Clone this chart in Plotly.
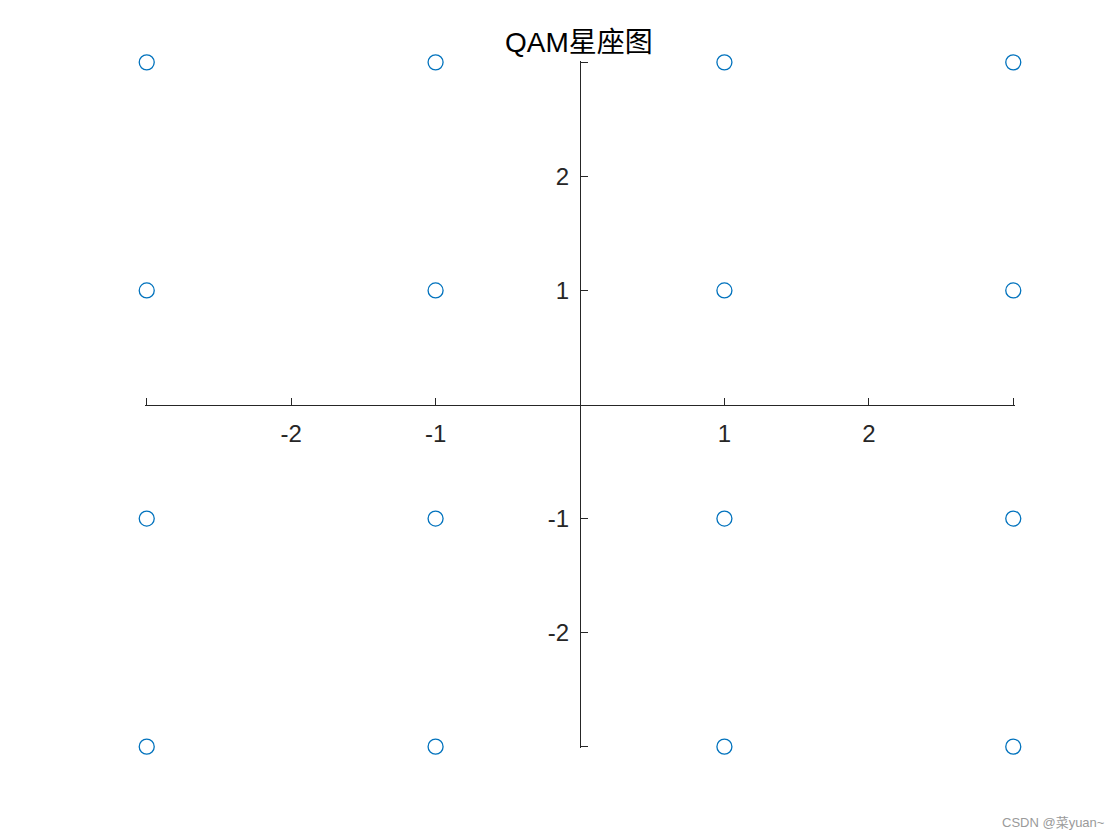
import plotly.graph_objects as go

# 16-QAM constellation points
i_vals = [-3, -3, -3, -3, -1, -1, -1, -1, 1, 1, 1, 1, 3, 3, 3, 3]
q_vals = [-3, -1, 1, 3, -3, -1, 1, 3, -3, -1, 1, 3, -3, -1, 1, 3]

tick_vals = [-3, -2, -1, 1, 2, 3]
tick_text = ["", "-2", "-1", "1", "2", ""]

titulo = "QAM星座图"
marca = "CSDN @菜yuan~"

fuente = "Liberation Sans, Arial, Noto Sans CJK SC"

# plot area in figure pixels (page adds an 8px body margin);
# range padded a hair so the end ticks at +-3 are still drawn
lim = 3.012
izq, der, arr, aba = 137, 1007, 53, 740

fig = go.Figure()
fig.add_trace(go.Scatter(
    x=i_vals, y=q_vals,
    mode="markers",
    marker=dict(symbol="circle-open", size=15, color="#0072BD",
                line=dict(width=1.3, color="#0072BD")),
    cliponaxis=False,
    showlegend=False,
))

eje = dict(
    range=[-lim, lim],
    showgrid=False,
    zeroline=False,
    showline=True,
    linecolor="#262626",
    linewidth=1,
    ticks="inside",
    ticklen=7,
    tickwidth=1,
    tickcolor="#262626",
    tickvals=tick_vals,
    ticktext=tick_text,
    tickfont=dict(family=fuente, size=24, color="#262626"),
    anchor="free",
    position=0.5,
)

ancho = der - izq
alto = aba - arr

fig.update_layout(
    width=1120, height=840,
    margin=dict(l=izq, r=1120 - der, t=arr, b=840 - aba),
    paper_bgcolor="white",
    plot_bgcolor="white",
    xaxis=dict(eje, side="bottom", ticklabelstandoff=8),
    yaxis=dict(eje, side="left", ticklabelstandoff=6),
    annotations=[
        dict(text=titulo, xref="paper", yref="paper",
             x=(571 - izq) / ancho, xanchor="center",
             y=(aba - 35) / alto, yanchor="middle", showarrow=False,
             font=dict(family=fuente, size=28, color="black")),
        dict(text=marca, xref="paper", yref="paper",
             x=(1099 - izq) / ancho, xanchor="right",
             y=-(814 - aba) / alto, yanchor="middle", showarrow=False,
             font=dict(family=fuente, size=13, color="#9a9a9a")),
    ],
)

fig.write_html("out.html")
